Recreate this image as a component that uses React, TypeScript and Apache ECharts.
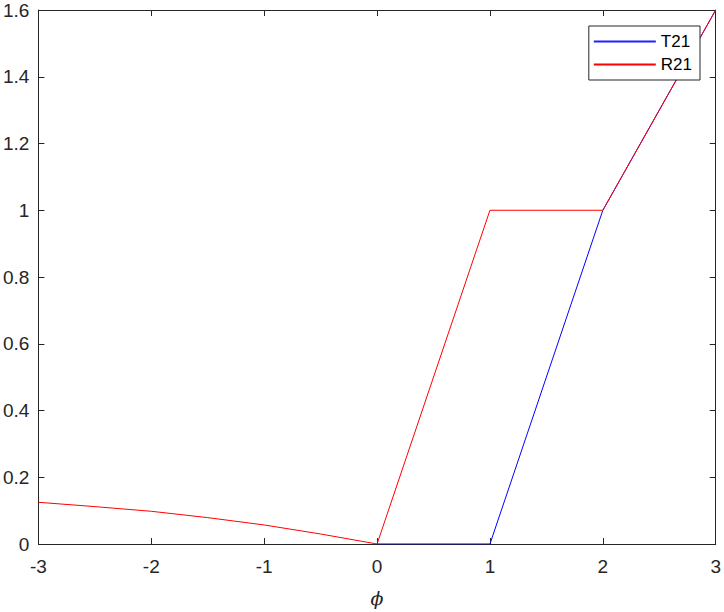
import * as echarts from "echarts";
import React, { useEffect, useRef } from 'react';

const phi = [-3, -2.5, -2, -1.5, -1, -0.5, 0, 1, 2, 3];
const t21 = [null, null, null, null, null, null, 0, 0, 1, 1.6];
const r21 = [0.125, 0.112, 0.098, 0.079, 0.057, 0.03, 0, 1, 1, 1.6];
const xTicks = [-3, -2, -1, 0, 1, 2, 3];
const yTicks = [0, 0.2, 0.4, 0.6, 0.8, 1, 1.2, 1.4, 1.6];

const axisColor = '#262626';
const font = 'Liberation Sans';

const pairs = (ys: (number | null)[]) =>
    phi.map((x, i) => [x, ys[i]]).filter((p) => p[1] !== null);

const App: React.FC = () => {
    const chartRef = useRef<HTMLDivElement>(null);

    useEffect(() => {
        if (!chartRef.current) return;
        const chart = echarts.init(chartRef.current, null, { renderer: 'svg' });

        const xBase = {
            type: 'value' as const,
            min: xTicks[0],
            max: xTicks[xTicks.length - 1],
            interval: 1,
            splitLine: { show: false },
            axisLine: { onZero: false, lineStyle: { color: axisColor, width: 1 } },
            axisTick: { inside: true, length: 6, lineStyle: { color: axisColor } },
        };
        const yBase = {
            type: 'value' as const,
            min: yTicks[0],
            max: yTicks[yTicks.length - 1],
            interval: 0.2,
            splitLine: { show: false },
            axisLine: { show: true, onZero: false, lineStyle: { color: axisColor, width: 1 } },
            axisTick: { show: true, inside: true, length: 6, lineStyle: { color: axisColor } },
        };

        chart.setOption({
            animation: false,
            grid: { left: 38, right: 8, top: 10, bottom: 67 },
            legend: {
                right: 24,
                top: 26,
                orient: 'vertical',
                backgroundColor: '#fff',
                borderColor: axisColor,
                borderWidth: 1,
                borderRadius: 0,
                padding: [7, 8, 7, 5],
                itemGap: 6,
                itemWidth: 62,
                itemHeight: 2,
                icon: 'rect',
                textStyle: { fontFamily: font, fontSize: 17, color: '#000' },
                data: [
                    {
                        name: 'T21',
                        itemStyle: { color: '#2020ff', borderWidth: 0 },
                        lineStyle: { color: '#2020ff', width: 0 },
                    },
                    {
                        name: 'R21',
                        itemStyle: { color: '#ff0000', borderWidth: 0 },
                        lineStyle: { color: '#ff0000', width: 0 },
                    },
                ],
            },
            xAxis: [
                {
                    ...xBase,
                    position: 'bottom',
                    name: 'ϕ',
                    nameLocation: 'middle',
                    nameGap: 44,
                    nameTextStyle: { fontFamily: 'DejaVu Serif', fontSize: 19, fontStyle: 'italic', color: axisColor },
                    axisLabel: {
                        fontFamily: font,
                        fontSize: 19,
                        color: axisColor,
                        margin: 13,
                        formatter: (v: number) => String(v),
                    },
                },
                { ...xBase, position: 'top', axisLabel: { show: false } },
            ],
            yAxis: [
                {
                    ...yBase,
                    position: 'left',
                    axisLabel: {
                        fontFamily: font,
                        fontSize: 19,
                        color: axisColor,
                        margin: 9,
                        formatter: (v: number) => String(Math.round(v * 10) / 10),
                    },
                },
                { ...yBase, position: 'right', axisLabel: { show: false } },
            ],
            series: [
                {
                    name: 'T21',
                    type: 'line',
                    data: pairs(t21),
                    showSymbol: false,
                    color: '#0000ff',
                    lineStyle: { width: 1, color: '#0000ff' },
                },
                {
                    name: 'R21',
                    type: 'line',
                    data: pairs(r21),
                    showSymbol: false,
                    color: '#ff0000',
                    lineStyle: { width: 1, color: '#ff0000' },
                },
            ],
        });

        return () => chart.dispose();
    }, []);

    return (
        <div
            ref={chartRef}
            style={{ position: 'fixed', left: 0, top: 0, width: 724, height: 612, background: '#fff' }}
        />
    );
};

export default App;
